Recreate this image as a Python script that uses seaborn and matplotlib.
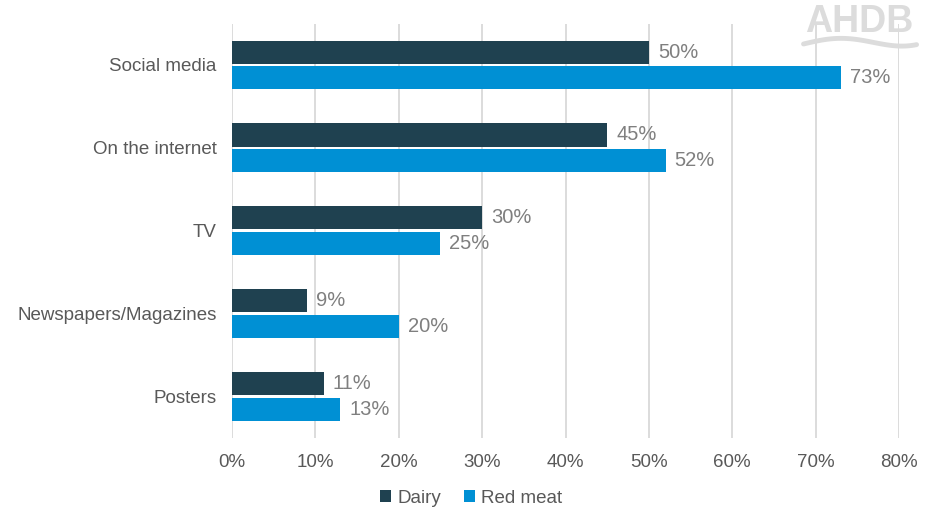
import numpy as np
import pandas as pd
import matplotlib
matplotlib.use('Agg')
import matplotlib.pyplot as plt
import seaborn as sns

categories = ['Social media', 'On the internet', 'TV', 'Newspapers/Magazines', 'Posters']
dairy = [50, 45, 30, 9, 11]
red_meat = [73, 52, 25, 20, 13]
series = ['Dairy', 'Red meat']
colours = ['#1F4150', '#0090D4']

df = pd.DataFrame({
    'category': categories * 2,
    'value': dairy + red_meat,
    'series': [series[0]] * len(categories) + [series[1]] * len(categories),
})

sns.set_style('white')
plt.rcParams['font.family'] = ['Liberation Sans', 'DejaVu Sans']

fig = plt.figure(figsize=(9.42, 5.30), dpi=100)
ax = fig.add_axes([0.2463, 0.1743, 0.9544 - 0.2463, 0.9555 - 0.1743])

sns.barplot(data=df, y='category', x='value', hue='series', order=categories,
            hue_order=series, palette=colours, orient='h', width=0.62, gap=0.1,
            saturation=1, linewidth=0, ax=ax, zorder=3)

for cont in ax.containers:
    ax.bar_label(cont, labels=[f'{v:.0f}%' for v in cont.datavalues],
                 padding=6.5, fontsize=14.5, color='#7F7F7F')

ax.set_xlim(0, 80)
ax.set_ylim(4.5, -0.5)
ax.set_xticks(np.arange(0, 81, 10))
ax.set_xticklabels([f'{t}%' for t in range(0, 81, 10)])
ax.tick_params(axis='both', labelsize=13.5, labelcolor='#595959', length=0)
ax.tick_params(axis='x', pad=12)
ax.tick_params(axis='y', pad=11)
ax.xaxis.grid(True, color='#D9D9D9', linewidth=1.3, zorder=0)
ax.yaxis.grid(False)
for s in ax.spines.values():
    s.set_visible(False)
ax.set_xlabel('')
ax.set_ylabel('')

handles, labels = ax.get_legend_handles_labels()
ax.legend_.remove()
fig.legend(handles, labels, loc='center', bbox_to_anchor=(0.5, 0.06), ncol=2, frameon=False,
           fontsize=13.5, labelcolor='#595959', handlelength=0.6, handleheight=0.6,
           handletextpad=0.35, columnspacing=1.2)

# AHDB logo
fig.text(0.912, 0.992, 'AHDB', ha='center', va='top', fontsize=27,
         color='#DCDCDC', fontweight='semibold')
xs = np.linspace(0.853, 0.973, 80)
t = (xs - xs[0]) / (xs[-1] - xs[0])
ys = 0.917 + 0.012 * np.sin(t * np.pi * 1.5) - 0.006 * t - 0.012 * t ** 3 * -1.4
fig.add_artist(plt.Line2D(xs, ys, color='#DCDCDC', linewidth=3.5, solid_capstyle='round',
                          transform=fig.transFigure))

fig.savefig('out.png', dpi=100)
